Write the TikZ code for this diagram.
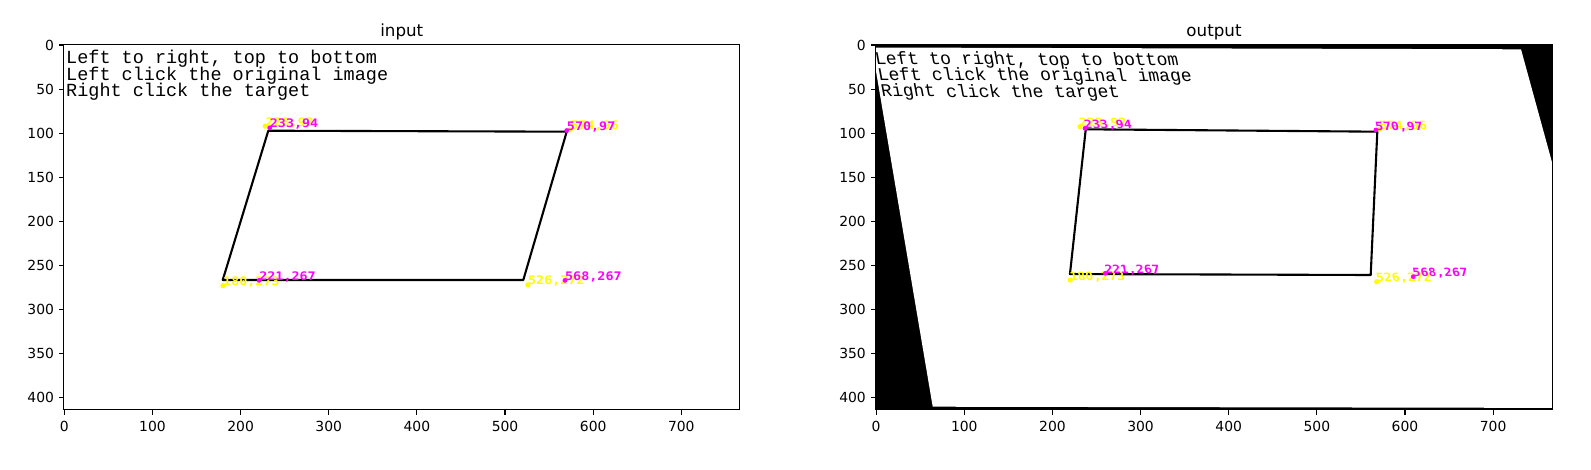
\documentclass[tikz,border=0pt]{standalone}
\usepackage{fontspec}
\usepackage{graphicx}
\setmainfont{DejaVu Sans}
\newfontfamily\hersheyfont{Liberation Mono}
\newfontfamily\labelfont{DejaVu Sans Mono}
\definecolor{mag}{RGB}{255,0,255}
\definecolor{yel}{RGB}{255,255,0}
\newcommand\ptxt[1]{\scalebox{1}[0.88]{#1}}
\tikzset{
 imgtext/.style={font=\hersheyfont\fontsize{18.5}{20}\selectfont, anchor=base west, inner sep=0pt, text=black},
 ptlabel/.style={font=\labelfont\bfseries\fontsize{13.4}{14}\selectfont, anchor=base west, inner sep=0pt},
 yellab/.style={ptlabel, text=yel},
 maglab/.style={ptlabel, text=mag},
 yeldot/.style={fill=yel},
 magdot/.style={fill=mag},
 quad/.style={draw=black, line width=2.1pt, line join=round},
 warp/.style={cm={0.975,-0.005,-0.18,0.967,(0,0)}, transform shape},
 frame/.style={draw=black, line width=1.1pt},
 axtick/.style={draw=black, line width=1.1pt},
 ticklab/.style={font=\fontsize{13.9}{16}\selectfont, inner sep=0pt},
 titlelab/.style={font=\fontsize{16.7}{20}\selectfont, inner sep=0pt, anchor=base},
}
\begin{document}
\begin{tikzpicture}[x=1pt,y=-1pt]
\useasboundingbox (0,0) rectangle (1591,469);
\fill[white] (0,0) rectangle (1591,469);

% ================= LEFT: input =================
\begin{scope}[shift={(64.34,45.04)}, x=0.8814pt, y=-0.8814pt]
  \draw[quad] (231.4,97.2) -- (570,98.3) -- (520.7,266.6) -- (179.7,266.6) -- cycle;
  \coordinate (it1) at (1.9,20.9);
  \coordinate (it2) at (1.9,39.9);
  \coordinate (it3) at (1.9,58.8);
  \node[imgtext] (itx1) at (it1) {Left to right, top to bottom};
  \node[imgtext] (itx2) at (it2) {Left click the original image};
  \node[imgtext] (itx3) at (it3) {Right click the target};
  % yellow (original) points
  \coordinate (iy1) at (228,92);
  \coordinate (iy2) at (574,96);
  \coordinate (iy3) at (180,273);
  \coordinate (iy4) at (526,272);
  \node[yellab] (iyl1) at (iy1) {\ptxt{228,92}};
  \node[yellab] (iyl2) at (iy2) {\ptxt{574,96}};
  \node[yellab] (iyl3) at (iy3) {\ptxt{180,273}};
  \node[yellab] (iyl4) at (iy4) {\ptxt{526,272}};
  \foreach \p in {iy1,iy2,iy3,iy4} \fill[yeldot] (\p) circle[radius=2.6pt];
  % magenta (target) points
  \coordinate (im1) at (233,94);
  \coordinate (im2) at (570,97);
  \coordinate (im3) at (221,267);
  \coordinate (im4) at (568,267);
  \node[maglab] (iml1) at (im1) {\ptxt{233,94}};
  \node[maglab] (iml2) at (im2) {\ptxt{570,97}};
  \node[maglab] (iml3) at (im3) {\ptxt{221,267}};
  \node[maglab] (iml4) at (im4) {\ptxt{568,267}};
  \foreach \p in {im1,im2,im3,im4} \fill[magdot] (\p) circle[radius=2.4pt];
\end{scope}
\draw[frame] (63.9,44.6) rectangle (739.7,409.9);
\foreach \v in {0,50,...,400}{
  \pgfmathsetmacro\yy{45.04+0.8814*\v}
  \draw[axtick] (63.9,\yy) -- ++(-4.9,0);
  \node[ticklab, anchor=east] (lyt\v) at (54.2,\yy) {\v};
}
\foreach \u in {0,100,...,700}{
  \pgfmathsetmacro\xx{64.34+0.8814*\u}
  \draw[axtick] (\xx,409.9) -- ++(0,4.9);
  \node[ticklab, anchor=north] (lxt\u) at (\xx,421) {\u};
}
\node[titlelab] (ltitle) at (401.8,36.3) {input};

% ================= RIGHT: output =================
\begin{scope}
  \clip (875.7,44.6) rectangle (1552.4,409.9);
  \fill[black] (875.7,44.6) rectangle (1552.4,409.9);
  \fill[white] (872,47.5) -- (1521,49.3) -- (1619.4,408) -- (932.7,406.7) -- cycle;
\end{scope}
\begin{scope}[shift={(876.14,45.04)}, x=0.8814pt, y=-0.8814pt]
  \draw[quad] (237.8,95.6) -- (568.6,98.3) -- (561.1,260.9) -- (219.9,259.8) -- cycle;
  \coordinate (ot1) at (-0.2,21.9);
  \coordinate (ot2) at (2.8,39.7);
  \coordinate (ot3) at (6.6,58.6);
  \node[imgtext, warp] (otx1) at (ot1) {Left to right, top to bottom};
  \node[imgtext, warp] (otx2) at (ot2) {Left click the original image};
  \node[imgtext, warp] (otx3) at (ot3) {Right click the target};
  \coordinate (oy1) at (231.3,92.6);
  \coordinate (oy2) at (571.7,95.3);
  \coordinate (oy3) at (220.3,266.6);
  \coordinate (oy4) at (567.9,268.5);
  \node[yellab, warp] (oyl1) at (oy1) {\ptxt{228,92}};
  \node[yellab, warp] (oyl2) at (oy2) {\ptxt{574,96}};
  \node[yellab, warp] (oyl3) at (oy3) {\ptxt{180,273}};
  \node[yellab, warp] (oyl4) at (oy4) {\ptxt{526,272}};
  \foreach \p in {oy1,oy2,oy3,oy4} \fill[yeldot] (\p) circle[radius=2.6pt];
  \coordinate (om1) at (237,94.5);
  \coordinate (om2) at (567.1,96.4);
  \coordinate (om3) at (260,259);
  \coordinate (om4) at (609.4,262.8);
  \node[maglab, warp] (oml1) at (om1) {\ptxt{233,94}};
  \node[maglab, warp] (oml2) at (om2) {\ptxt{570,97}};
  \node[maglab, warp] (oml3) at (om3) {\ptxt{221,267}};
  \node[maglab, warp] (oml4) at (om4) {\ptxt{568,267}};
  \foreach \p in {om1,om2,om3,om4} \fill[magdot] (\p) circle[radius=2.4pt];
\end{scope}
\draw[frame] (875.7,44.6) rectangle (1552.4,409.9);
\foreach \v in {0,50,...,400}{
  \pgfmathsetmacro\yy{45.04+0.8814*\v}
  \draw[axtick] (875.7,\yy) -- ++(-4.9,0);
  \node[ticklab, anchor=east] (ryt\v) at (866,\yy) {\v};
}
\foreach \u in {0,100,...,700}{
  \pgfmathsetmacro\xx{876.14+0.8814*\u}
  \draw[axtick] (\xx,409.9) -- ++(0,4.9);
  \node[ticklab, anchor=north] (rxt\u) at (\xx,421) {\u};
}
\node[titlelab] (rtitle) at (1214,36.3) {output};
\end{tikzpicture}
\end{document}
